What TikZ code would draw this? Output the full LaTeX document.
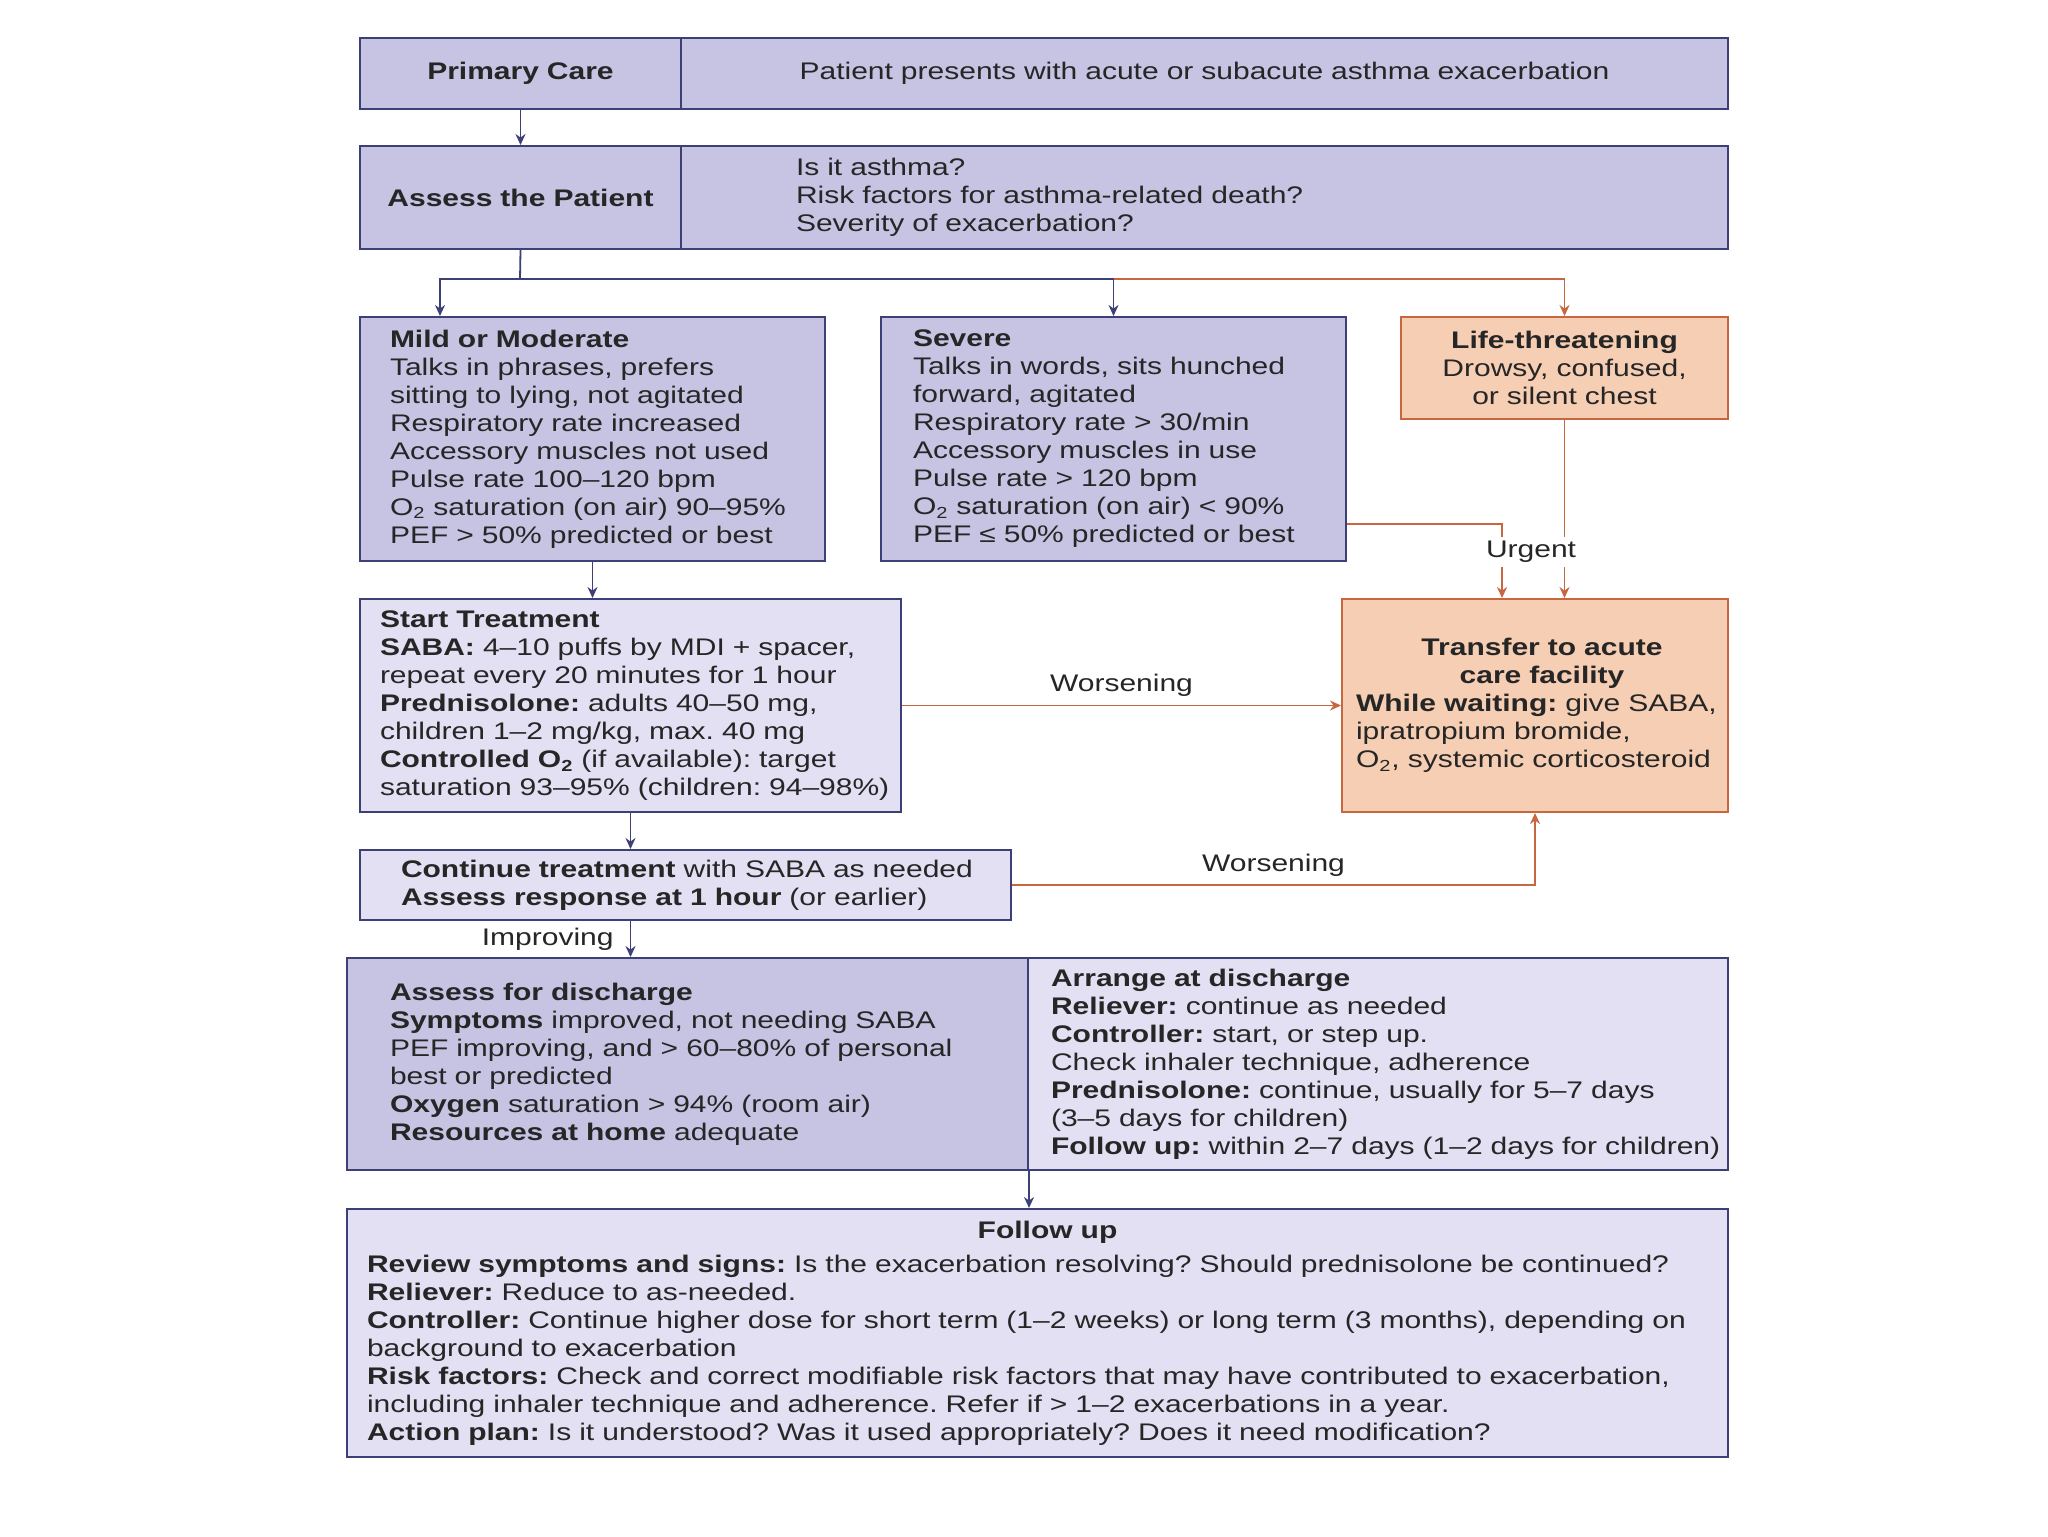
\documentclass[tikz,border=0pt]{standalone}
\usepackage{fontspec}
\setmainfont{Liberation Sans}[FakeStretch=1.25]
\usetikzlibrary{arrows.meta,calc}
\definecolor{lavdark}{RGB}{198,195,227}
\definecolor{lavlight}{RGB}{226,224,242}
\definecolor{orfill}{RGB}{246,206,179}
\definecolor{orline}{RGB}{200,102,63}
\definecolor{blline}{RGB}{61,64,119}
\definecolor{txtc}{RGB}{38,38,38}
\newcommand\boxfont{\fontsize{12}{14}\selectfont\frenchspacing}
\newcommand\padl[1]{\leftskip=#1\relax}
\begin{document}
\begin{tikzpicture}[x=0.5pt,y=-0.5pt,
  box/.style={draw=blline, line width=1pt, fill=lavdark, anchor=north west,
    inner xsep=0pt, inner ysep=0pt, font=\boxfont, text=txtc, align=left},
  lbox/.style={box, fill=lavlight},
  obox/.style={box, draw=orline, fill=orfill},
  bl/.style={draw=blline, line width=0.9pt},
  orl/.style={draw=orline, line width=0.9pt},
  tip/.style={-{Stealth[length=5.5pt,width=5pt]}},
  lbl/.style={font=\boxfont, text=txtc, inner sep=1pt}
]
\fill[white] (0,0) rectangle (2048,1536);
\useasboundingbox (0,0) rectangle (2048,1536);

% row 1
\node[box, text width=160.5pt, minimum height=35.5pt, align=center] (pcl) at (359,37) {\textbf{Primary Care}};
\node[box, text width=523.5pt, minimum height=35.5pt, align=center] (pct) at (680,37) {Patient presents with acute or subacute asthma exacerbation};

% row 2
\node[box, text width=160.5pt, minimum height=51.5pt, align=center] (asl) at (359,145) {\textbf{Assess the Patient}};
\node[box, text width=523.5pt, minimum height=51.5pt] (ast) at (680,145) {\padl{57.5pt}Is it asthma?\\Risk factors for asthma-related death?\\Severity of exacerbation?\par};

% severity
\node[box, text width=232.5pt, minimum height=122pt] (mild) at (359,316) {\padl{15pt}\textbf{Mild or Moderate}\\
Talks in phrases, prefers\\
sitting to lying, not agitated\\
Respiratory rate increased\\
Accessory muscles not used\\
Pulse rate 100--120 bpm\\
O\textsubscript{2} saturation (on air) 90--95\%\\
PEF > 50\% predicted or best\par};

\node[box, text width=232.5pt, minimum height=122pt] (severe) at (880,316) {\padl{16pt}\textbf{Severe}\\
Talks in words, sits hunched\\
forward, agitated\\
Respiratory rate > 30/min\\
Accessory muscles in use\\
Pulse rate > 120 bpm\\
O\textsubscript{2} saturation (on air) < 90\%\\
PEF ≤ 50\% predicted or best\par};

\node[obox, text width=163.5pt, minimum height=51pt, align=center] (life) at (1400,316) {\textbf{Life-threatening}\\Drowsy, confused,\\or silent chest};

% treatment
\node[lbox, text width=270.5pt, minimum height=106.5pt] (start) at (359,598) {\padl{10pt}\textbf{Start Treatment}\\
\textbf{SABA:} 4--10 puffs by MDI + spacer,\\
repeat every 20 minutes for 1 hour\\
\textbf{Prednisolone:} adults 40--50 mg,\\
children 1--2 mg/kg, max. 40 mg\\
\textbf{Controlled O\textsubscript{2}} (if available): target\\
saturation 93--95\% (children: 94--98\%)\par};

\node[obox, text width=193pt, minimum height=106.5pt] (transfer) at (1341,598) {\padl{7pt}\hspace*{\fill}\textbf{Transfer to acute}\hspace*{\fill}\hspace*{7pt}\\
\hspace*{\fill}\textbf{care facility}\hspace*{\fill}\hspace*{7pt}\\
\textbf{While waiting:} give SABA,\\
ipratropium bromide,\\
O\textsubscript{2}, systemic corticosteroid\par};

\node[lbox, text width=325.5pt, minimum height=35pt] (cont) at (359,849) {\padl{20.5pt}\textbf{Continue treatment} with SABA as needed\\
\textbf{Assess response at 1 hour} (or earlier)\par};

% discharge
\node[box, text width=340.5pt, minimum height=106pt] (discl) at (346,957) {\padl{21.5pt}\textbf{Assess for discharge}\\
\textbf{Symptoms} improved, not needing SABA\\
PEF improving, and > 60--80\% of personal\\
best or predicted\\
\textbf{Oxygen} saturation > 94\% (room air)\\
\textbf{Resources at home} adequate\par};

\node[lbox, text width=350pt, minimum height=106pt] (discr) at (1027,957) {\padl{11.5pt}\textbf{Arrange at discharge}\\
\textbf{Reliever:} continue as needed\\
\textbf{Controller:} start, or step up.\\
Check inhaler technique, adherence\\
\textbf{Prednisolone:} continue, usually for 5--7 days\\
(3--5 days for children)\\
\textbf{Follow up:} within 2--7 days (1--2 days for children)\par};

% follow up
\node[lbox, text width=690.5pt, minimum height=124pt] (follow) at (346,1208) {\padl{10pt}\hspace*{\fill}\textbf{Follow up}\hspace*{\fill}\hspace*{10pt}\\[3pt]
\textbf{Review symptoms and signs:} Is the exacerbation resolving? Should prednisolone be continued?\\
\textbf{Reliever:} Reduce to as-needed.\\
\textbf{Controller:} Continue higher dose for short term (1--2 weeks) or long term (3 months), depending on\\
background to exacerbation\\
\textbf{Risk factors:} Check and correct modifiable risk factors that may have contributed to exacerbation,\\
including inhaler technique and adherence. Refer if > 1--2 exacerbations in a year.\\
\textbf{Action plan:} Is it understood? Was it used appropriately? Does it need modification?\par};

% connectors
\coordinate (split) at (520,279);
\draw[bl,tip] (pcl.south) -- (asl.north);
\draw[bl] (asl.south) -- (split);
\draw[bl,tip] (split) -| ([xshift=40.5pt]mild.north west);
\draw[bl,tip] (split) -| (severe.north);
\draw[orl,tip] (split -| severe.north) -| (life.north);

\draw[bl,tip] (mild.south) -- (mild.south |- start.north);
\draw[orl,tip] ([yshift=19pt]severe.south east) -| ([xshift=80.5pt]transfer.north west);
\draw[orl,tip] (life.south) -- (life.south |- transfer.north);
\node[lbl, fill=white, inner ysep=2pt] (urgent) at (1531,552) {Urgent};

\draw[orl,tip] (start.east) -- node[lbl, above=3pt] (worse1) {Worsening} (transfer.west);
\draw[bl,tip] (start.south) -- (start.south |- cont.north);
\draw[orl,tip] (cont.east) -| node[lbl, above=3pt, pos=0.25] (worse2) {Worsening} (transfer.south);
\draw[bl,tip] (start.south |- cont.south) -- node[lbl, left=7pt] (improv) {Improving} (start.south |- discl.north);
\draw[bl,tip] (discl.south east) -- (discl.south east |- follow.north);
\end{tikzpicture}
\end{document}
